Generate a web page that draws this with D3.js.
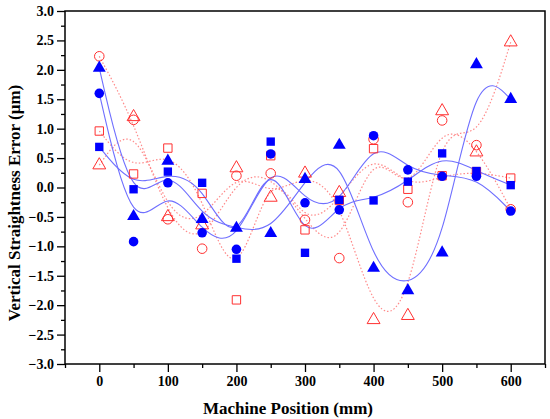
<!DOCTYPE html>
<html>
<head>
<meta charset="utf-8">
<script src="https://cdn.jsdelivr.net/npm/d3@7"></script>
<style>
body { margin: 0; background: #fff; }
text { font-family: "Liberation Serif", "Times New Roman", serif; font-weight: bold; }
</style>
</head>
<body>
<svg id="chart" width="550" height="419"></svg>
<script>
// machine positions (mm)
const positions = [0, 50, 100, 150, 200, 250, 300, 350, 400, 450, 500, 550, 600]

const blueSquare   = [0.69, -0.03, 0.27, 0.08, -1.21, 0.78, -1.11, -0.21, -0.22, 0.10, 0.58, 0.28, 0.04]
const blueCircle   = [1.60, -0.92, 0.08, -0.77, -1.05, 0.57, -0.26, -0.38, 0.88, 0.30, 0.19, 0.19, -0.40]
const blueTriangle = [2.03, -0.49, 0.45, -0.54, -0.69, -0.78, 0.14, 0.72, -1.37, -1.75, -1.11, 2.09, 1.50]
const redSquare    = [0.96, 0.23, 0.67, -0.10, -1.91, 0.54, -0.72, -0.22, 0.66, -0.03, 0.20, 0.27, 0.16]
const redCircle    = [2.23, 1.15, -0.54, -1.04, 0.20, 0.24, -0.55, -1.20, 0.82, -0.25, 1.14, 0.72, -0.37]
const redTriangle  = [0.38, 1.20, -0.50, -0.64, 0.33, -0.17, 0.24, -0.09, -2.25, -2.18, 1.30, 0.60, 2.47]

const xTicks = [0, 100, 200, 300, 400, 500, 600]
const yTicks = [-3, -2.5, -2, -1.5, -1, -0.5, 0, 0.5, 1, 1.5, 2, 2.5, 3]

const series = [
	{ values: redSquare, shape: "square", filled: false },
	{ values: redCircle, shape: "circle", filled: false },
	{ values: redTriangle, shape: "triangle", filled: false },
	{ values: blueSquare, shape: "square", filled: true },
	{ values: blueCircle, shape: "circle", filled: true },
	{ values: blueTriangle, shape: "triangle", filled: true }
]

const plotL = 65, plotR = 545, plotT = 11, plotB = 364
const svg = d3.select("#chart")

let x = d3.scaleLinear().domain([-50, 650]).range([plotL, plotR])
let y = d3.scaleLinear().domain([-3, 3]).range([plotB, plotT])

// frame
svg.append("rect").attr("x", plotL).attr("y", plotT)
	.attr("width", plotR - plotL).attr("height", plotB - plotT)
	.attr("fill", "none").attr("stroke", "#000").attr("stroke-width", 1.5)

function styleAxis(g) {
	g.select(".domain").remove()
	g.attr("font-family", "Liberation Serif").attr("font-size", 14)
	g.selectAll("text").attr("fill", "#000").attr("font-weight", "bold")
}

// x axis with minor ticks at the 50s
svg.append("g").attr("transform", `translate(0,${plotB})`)
	.call(d3.axisBottom(x).tickValues(d3.range(-50, 651, 50).filter(v => v % 100 != 0)).tickSize(4).tickFormat(""))
	.call(styleAxis)
svg.append("g").attr("transform", `translate(0,${plotB})`)
	.call(d3.axisBottom(x).tickValues(xTicks).tickSize(8).tickPadding(4).tickFormat(d3.format("d")))
	.call(styleAxis)

// y axis
svg.append("g").attr("transform", `translate(${plotL},0)`)
	.call(d3.axisLeft(y).tickValues(d3.range(-2.75, 3, 0.5)).tickSize(4).tickFormat(""))
	.call(styleAxis)
svg.append("g").attr("transform", `translate(${plotL},0)`)
	.call(d3.axisLeft(y).tickValues(yTicks).tickSize(8).tickPadding(3).tickFormat(d3.format(".1f")))
	.call(styleAxis)

svg.selectAll(".tick line").attr("stroke", "#000").attr("stroke-width", 1.3)

// axis titles
svg.append("text").attr("x", 288).attr("y", 414).attr("text-anchor", "middle")
	.attr("font-size", 17).text("Machine Position (mm)")
svg.append("text").attr("transform", "translate(20,203) rotate(-90)").attr("text-anchor", "middle")
	.attr("font-size", 17).text("Vertical Straightness Error (μm)")

// B-spline connection through each run
let line = d3.line().x((d, i) => x(positions[i])).y(d => y(d)).curve(d3.curveBasis)

series.forEach(s => {
	svg.append("path").attr("d", line(s.values)).attr("fill", "none")
		.attr("stroke", s.filled ? "#6f6fff" : "#ff8a8a")
		.attr("stroke-width", s.filled ? 1.1 : 1.2)
		.attr("stroke-dasharray", s.filled ? null : "1.5,2")
})

// markers
const symbols = { square: d3.symbolSquare, circle: d3.symbolCircle, triangle: d3.symbolTriangle }
const sizes = { square: 70, circle: 72, triangle: 72 }
series.forEach(s => {
	let sym = d3.symbol().type(symbols[s.shape]).size(sizes[s.shape])
	svg.append("g").selectAll("path").data(s.values).enter().append("path")
		.attr("transform", (d, i) => `translate(${x(positions[i])},${y(d)})`)
		.attr("d", sym)
		.attr("fill", s.filled ? "#0000ff" : "none")
		.attr("stroke", s.filled ? "none" : "#ff3030")
		.attr("stroke-width", 1)
})
</script>
</body>
</html>
